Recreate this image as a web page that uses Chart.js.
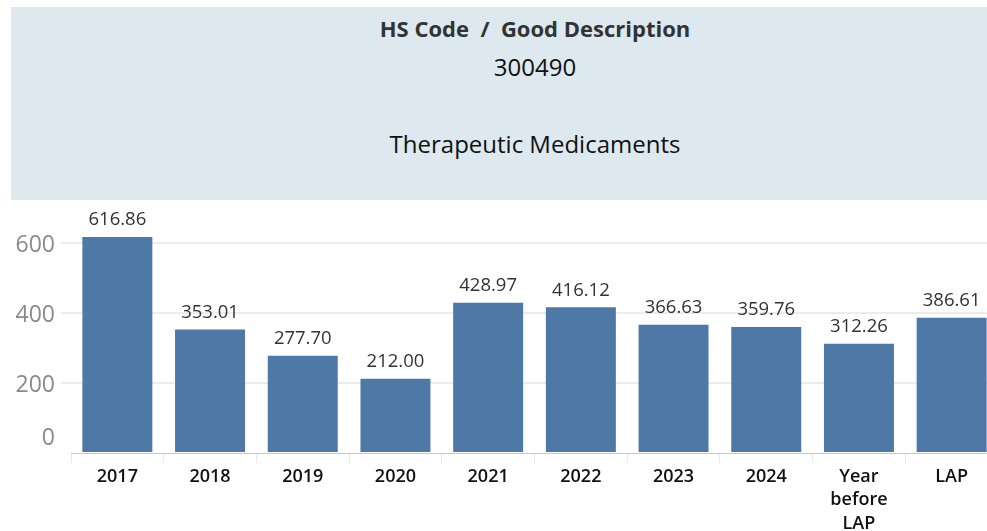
<!DOCTYPE html>
<html>
<head>
<meta charset="utf-8">
<script src="https://cdn.jsdelivr.net/npm/chart.js@4.4.0/dist/chart.umd.min.js"></script>
<style>
  html, body { margin: 0; padding: 0; width: 987px; height: 531px; overflow: hidden; background: #fff; font-family: "Open Sans", sans-serif; }
  #header { position: absolute; left: 11px; top: 7px; width: 1048px; height: 193px; background: #dde9ef; }
  .hline { position: absolute; left: 0; width: 100%; text-align: center; height: 30px; line-height: 30px; white-space: pre; }
  #title { top: 6px; font-size: 22px; font-weight: 700; color: #333; }
  #code { top: 45px; font-size: 24px; color: #111; }
  #desc { top: 122px; font-size: 24px; color: #111; }
  #wrap { position: absolute; left: 0; top: 200px; width: 998px; height: 331px; }
</style>
</head>
<body>
<div id="header">
  <div class="hline" id="title">HS Code  /  Good Description</div>
  <div class="hline" id="code">300490</div>
  <div class="hline" id="desc">Therapeutic Medicaments</div>
</div>
<div id="wrap"><canvas id="chart" width="998" height="331"></canvas></div>
<script>
var categories = ['2017', '2018', '2019', '2020', '2021', '2022', '2023', '2024', ['Year', 'before', 'LAP'], 'LAP'];
var values = [616.86, 353.01, 277.70, 212.00, 428.97, 416.12, 366.63, 359.76, 312.26, 386.61];
var yTicks = [0, 200, 400, 600];

var barColor = 'rgb(78, 121, 167)';

// value labels above each bar
var valueLabels = {
  id: 'valueLabels',
  afterDatasetsDraw: function(chart) {
    var ctx = chart.ctx;
    var meta = chart.getDatasetMeta(0);
    ctx.save();
    ctx.font = '18.5px "Open Sans"';
    ctx.fillStyle = '#333';
    ctx.textAlign = 'center';
    ctx.textBaseline = 'middle';
    meta.data.forEach(function(bar, i) {
      ctx.fillText(values[i].toFixed(2), bar.x, bar.y - 17);
    });
    ctx.restore();
  }
};

// y tick labels, tableau nudges the 0 label up off the baseline
var yLabels = {
  id: 'yLabels',
  afterDraw: function(chart) {
    var ctx = chart.ctx;
    var y = chart.scales.y;
    ctx.save();
    ctx.font = '23px "Open Sans"';
    ctx.fillStyle = '#8a8a8a';
    ctx.textAlign = 'right';
    ctx.textBaseline = 'middle';
    yTicks.forEach(function(v) {
      var py = y.getPixelForValue(v) + 2;
      if (v == 0) py -= 17;
      ctx.fillText(String(v), 55, py);
    });
    ctx.restore();
  }
};

var ctx = document.getElementById('chart').getContext('2d');
new Chart(ctx, {
  type: 'bar',
  data: {
    labels: categories,
    datasets: [{
      data: values,
      backgroundColor: barColor,
      barPercentage: 0.755,
      categoryPercentage: 1.0
    }]
  },
  options: {
    responsive: false,
    animation: false,
    devicePixelRatio: 1,
    layout: { padding: { top: 8, left: 0, right: 0, bottom: 0 } },
    plugins: {
      legend: { display: false },
      tooltip: { enabled: false }
    },
    scales: {
      x: {
        grid: {
          offset: true,
          drawOnChartArea: false,
          drawTicks: true,
          tickLength: 10,
          color: '#e8e8e8'
        },
        border: { display: true, color: '#c8c8c8', dash: [3, 3] },
        ticks: {
          color: '#111',
          font: { family: 'Open Sans', size: 18, weight: '600', lineHeight: 1.3 },
          padding: 2,
          maxRotation: 0,
          autoSkip: false
        },
        afterFit: function(scale) { scale.height = 78; }
      },
      y: {
        min: 0,
        max: 700,
        grid: {
          color: function(c) { return c.tick && c.tick.value == 0 ? 'rgba(0,0,0,0)' : '#ececec'; },
          lineWidth: 2,
          drawTicks: true,
          tickLength: 10
        },
        border: { display: false },
        ticks: { display: false, stepSize: 200, includeBounds: false },
        afterFit: function(scale) { scale.width = 71; }
      }
    }
  },
  plugins: [valueLabels, yLabels]
});
</script>
</body>
</html>
